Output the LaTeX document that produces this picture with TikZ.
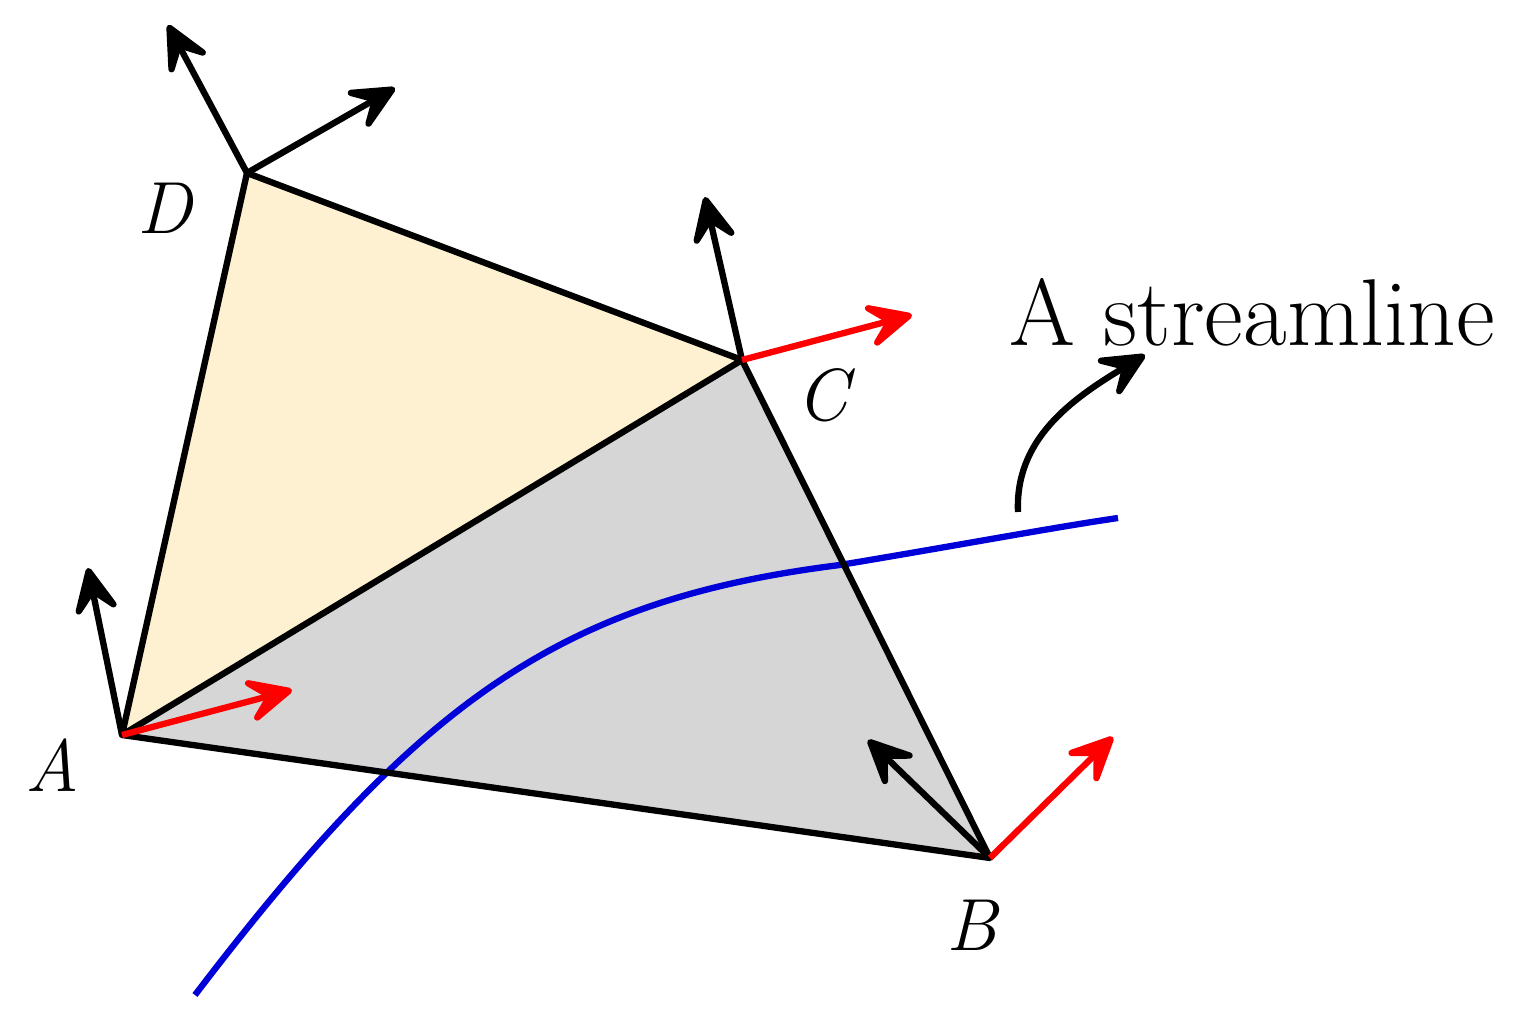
\documentclass[tikz,border=0pt]{standalone}
\usetikzlibrary{arrows.meta}
\begin{document}
\begin{tikzpicture}[x=0.01cm,y=-0.01cm,
  edge/.style={line width=1.8pt,line join=round},
  vec/.style={line width=1.8pt,-{Stealth[length=17pt,width=16pt,inset=8pt,round]}},
  lab/.style={font=\fontsize{21}{24}\selectfont\itshape}]
\useasboundingbox (0,0) rectangle (1514,1019);
\coordinate (A) at (122,735); \coordinate (B) at (990,858);
\coordinate (C) at (742,360); \coordinate (D) at (247,173);
\fill[fill={rgb,255:red,253;green,241;blue,210}] (A)--(C)--(D)--cycle;
\fill[fill={rgb,255:red,214;green,214;blue,214}] (A)--(B)--(C)--cycle;
\draw[blue!85!black,line width=1.8pt] (195,995) .. controls (420,700) and (560,600) .. (840,565) .. controls (960,545) and (1050,528) .. (1118,518);
\draw[edge] (A)--(B)--(C)--(D)--cycle (A)--(C);
\coordinate (d1) at (168,25); \coordinate (d2) at (395,88);
\coordinate (c1) at (705,197); \coordinate (c2) at (912,315);
\coordinate (a1) at (88,568); \coordinate (a2) at (292,690);
\coordinate (b1) at (868,740); \coordinate (b2) at (1113,737);
\draw[vec] (D)--(d1); \draw[vec] (D)--(d2);
\draw[vec] (C)--(c1); \draw[vec,red] (C)--(c2);
\draw[vec] (A)--(a1); \draw[vec,red] (A)--(a2);
\draw[vec] (B)--(b1); \draw[vec,red] (B)--(b2);
\node[lab] (la) at (52,765) {A};
\node[lab] (lb) at (972,925) {B};
\node[lab] (lc) at (822,395) {C};
\node[lab] (ld) at (165,208) {D};
\node[font=\fontsize{27}{30}\selectfont] (sl) at (1252,312) {A streamline};
\coordinate (s0) at (1018,512); \coordinate (s1) at (1145,355);
\draw[vec] (s0) .. controls (1015,440) and (1070,400) .. (s1);
\end{tikzpicture}
\end{document}
